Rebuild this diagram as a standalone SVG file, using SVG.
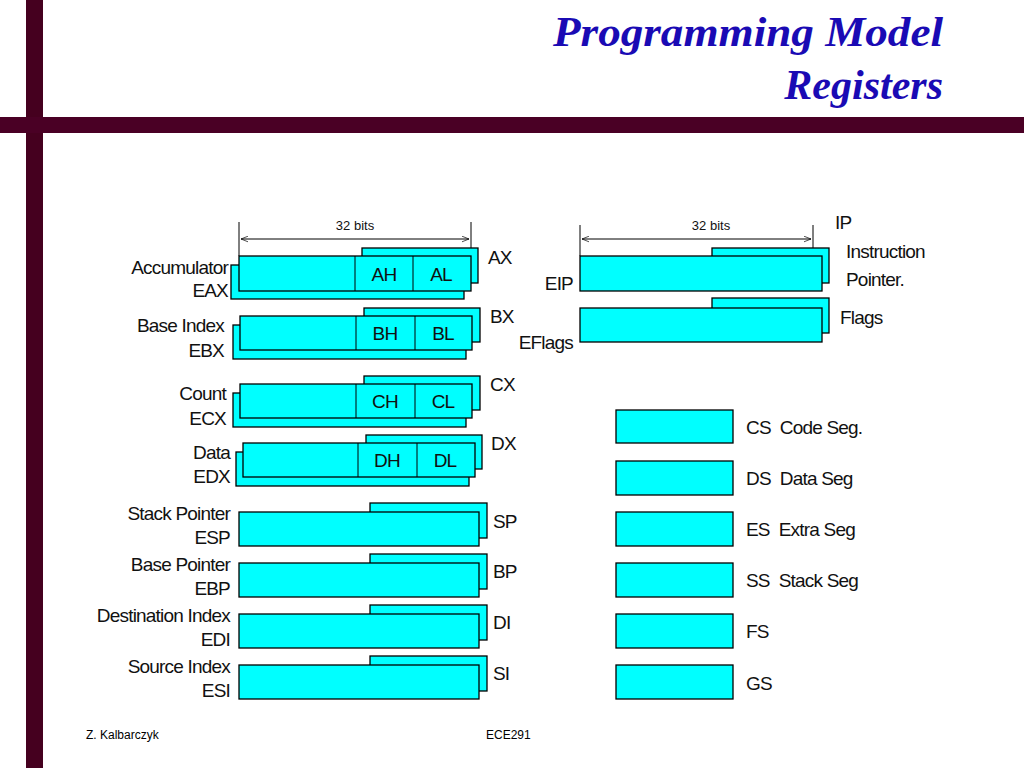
<svg xmlns="http://www.w3.org/2000/svg" width="1024" height="768" viewBox="0 0 1024 768">
<style>
.r{fill:#00ffff;stroke:#000;stroke-width:1.3}
.l{font-family:"Liberation Sans",Arial,sans-serif;font-size:19px;fill:#111;letter-spacing:-0.8px;white-space:pre}
.s{font-family:"Liberation Sans",Arial,sans-serif;font-size:13px;fill:#111}
.f{font-family:"Liberation Sans",Arial,sans-serif;font-size:12px;fill:#000}
.t{font-family:"Liberation Serif","Times New Roman",serif;font-size:42px;font-weight:bold;font-style:italic;fill:#1a0ab4}
</style>
<defs><marker id="a" viewBox="0 0 10 10" refX="10" refY="5" markerWidth="7" markerHeight="7" orient="auto-start-reverse"><path d="M0,1 L10,5 L0,9" fill="none" stroke="#000"/></marker></defs>
<rect x="26" y="0" width="17" height="768" fill="#45001f"/>
<rect x="0" y="117" width="1024" height="16" fill="#4a0025"/>
<text class="t" x="943" y="46" text-anchor="end" textLength="390" lengthAdjust="spacingAndGlyphs">Programming Model</text>
<text class="t" x="943" y="99" text-anchor="end">Registers</text>
<g id="connectors" stroke="#000" stroke-width="1">
<line x1="239" y1="222" x2="239" y2="256"/><line x1="471" y1="222" x2="471" y2="256"/>
<line x1="241" y1="239" x2="469" y2="239" marker-start="url(#a)" marker-end="url(#a)"/>
<line x1="580" y1="225" x2="580" y2="256"/><line x1="813" y1="225" x2="813" y2="250"/>
<line x1="582" y1="239" x2="811" y2="239" marker-start="url(#a)" marker-end="url(#a)"/>
</g>
<text class="s" x="355" y="230" text-anchor="middle">32 bits</text>
<text class="s" x="711" y="230" text-anchor="middle">32 bits</text>
<g id="eax"><rect class="r" x="231" y="265" width="233" height="34"/><rect class="r" x="362" y="248" width="116" height="35"/><rect class="r" x="239" y="256" width="232" height="35"/><line x1="355" y1="256" x2="355" y2="291" stroke="#000"/><line x1="413" y1="256" x2="413" y2="291" stroke="#000"/>
<text class="l" x="384" y="281" text-anchor="middle">AH</text><text class="l" x="441" y="281" text-anchor="middle">AL</text><text class="l" x="488" y="264">AX</text>
<text class="l" x="228" y="274" text-anchor="end">Accumulator</text><text class="l" x="228" y="297" text-anchor="end">EAX</text></g>
<g id="ebx"><rect class="r" x="233" y="325" width="233" height="34"/><rect class="r" x="364" y="308" width="116" height="34"/><rect class="r" x="240" y="316" width="232" height="34"/><line x1="356" y1="316" x2="356" y2="350" stroke="#000"/><line x1="415" y1="316" x2="415" y2="350" stroke="#000"/>
<text class="l" x="385" y="340" text-anchor="middle">BH</text><text class="l" x="443" y="340" text-anchor="middle">BL</text><text class="l" x="490" y="323">BX</text>
<text class="l" x="224" y="332" text-anchor="end">Base Index</text><text class="l" x="224" y="357" text-anchor="end">EBX</text></g>
<g id="ecx"><rect class="r" x="233" y="393" width="233" height="34"/><rect class="r" x="364" y="376" width="116" height="34"/><rect class="r" x="240" y="384" width="232" height="34"/><line x1="356" y1="384" x2="356" y2="418" stroke="#000"/><line x1="415" y1="384" x2="415" y2="418" stroke="#000"/>
<text class="l" x="385" y="408" text-anchor="middle">CH</text><text class="l" x="443" y="408" text-anchor="middle">CL</text><text class="l" x="490" y="391">CX</text>
<text class="l" x="226" y="400" text-anchor="end">Count</text><text class="l" x="226" y="425" text-anchor="end">ECX</text></g>
<g id="edx"><rect class="r" x="236" y="452" width="233" height="34"/><rect class="r" x="366" y="435" width="116" height="34"/><rect class="r" x="243" y="443" width="232" height="34"/><line x1="358" y1="443" x2="358" y2="477" stroke="#000"/><line x1="417" y1="443" x2="417" y2="477" stroke="#000"/>
<text class="l" x="387" y="467" text-anchor="middle">DH</text><text class="l" x="445" y="467" text-anchor="middle">DL</text><text class="l" x="491" y="450">DX</text>
<text class="l" x="230" y="459" text-anchor="end">Data</text><text class="l" x="230" y="483" text-anchor="end">EDX</text></g>
<g id="esp"><rect class="r" x="370" y="503" width="117" height="35"/><rect class="r" x="239" y="512" width="240" height="34"/><text class="l" x="493" y="528">SP</text>
<text class="l" x="230" y="520" text-anchor="end">Stack Pointer</text><text class="l" x="230" y="544" text-anchor="end">ESP</text></g>
<g id="ebp"><rect class="r" x="370" y="554" width="117" height="35"/><rect class="r" x="239" y="563" width="240" height="34"/><text class="l" x="493" y="578">BP</text>
<text class="l" x="230" y="571" text-anchor="end">Base Pointer</text><text class="l" x="230" y="595" text-anchor="end">EBP</text></g>
<g id="edi"><rect class="r" x="370" y="605" width="117" height="35"/><rect class="r" x="239" y="614" width="240" height="34"/><text class="l" x="493" y="629">DI</text>
<text class="l" x="230" y="622" text-anchor="end">Destination Index</text><text class="l" x="230" y="646" text-anchor="end">EDI</text></g>
<g id="esi"><rect class="r" x="370" y="656" width="117" height="35"/><rect class="r" x="239" y="665" width="240" height="34"/><text class="l" x="493" y="680">SI</text>
<text class="l" x="230" y="673" text-anchor="end">Source Index</text><text class="l" x="230" y="697" text-anchor="end">ESI</text></g>
<g id="eip"><rect class="r" x="712" y="248" width="117" height="35"/><rect class="r" x="580" y="256" width="242" height="35"/>
<text class="l" x="835" y="229">IP</text><text class="l" x="846" y="258">Instruction</text><text class="l" x="846" y="286">Pointer.</text><text class="l" x="573" y="290" text-anchor="end">EIP</text></g>
<g id="eflags"><rect class="r" x="712" y="298" width="117" height="35"/><rect class="r" x="580" y="308" width="242" height="34"/>
<text class="l" x="840" y="324">Flags</text><text class="l" x="573" y="349" text-anchor="end">EFlags</text></g>
<g id="cs"><rect class="r" x="616" y="410" width="117" height="33"/><text class="l" x="746" y="434">CS  Code Seg.</text></g>
<g id="ds"><rect class="r" x="616" y="461" width="117" height="34"/><text class="l" x="746" y="485">DS  Data Seg</text></g>
<g id="es"><rect class="r" x="616" y="512" width="117" height="34"/><text class="l" x="746" y="536">ES  Extra Seg</text></g>
<g id="ss"><rect class="r" x="616" y="563" width="117" height="34"/><text class="l" x="746" y="587">SS  Stack Seg</text></g>
<g id="fs"><rect class="r" x="616" y="614" width="117" height="34"/><text class="l" x="746" y="638">FS</text></g>
<g id="gs"><rect class="r" x="616" y="665" width="117" height="34"/><text class="l" x="746" y="690">GS</text></g>
<text class="f" x="86" y="739">Z. Kalbarczyk</text>
<text class="f" x="486" y="739">ECE291</text>
</svg>
